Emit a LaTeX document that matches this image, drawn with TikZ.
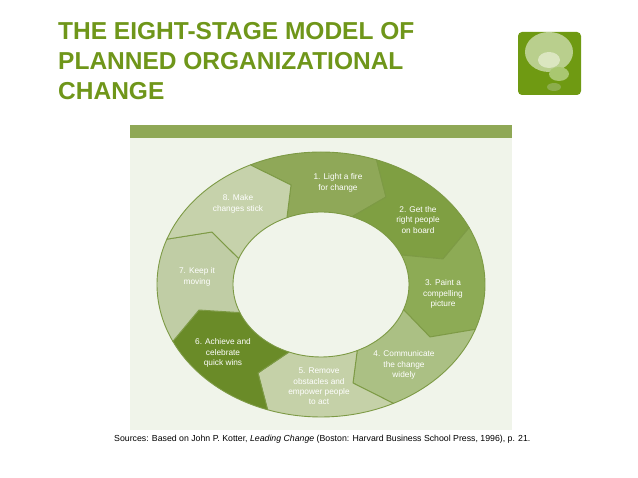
\documentclass[tikz,border=0pt]{standalone}
\usepackage{fontspec}
\setmainfont{Liberation Sans}
\usepackage{xcolor}
\definecolor{titlegreen}{HTML}{6F961A}
\definecolor{panelbg}{HTML}{F0F4EA}
\definecolor{barcol}{HTML}{8FA856}
\definecolor{edgecol}{HTML}{7D9A45}
\definecolor{iconbg}{HTML}{6F9A12}
\definecolor{iconbig}{HTML}{B9CF8D}
\definecolor{iconhi}{HTML}{DBE6C0}
\definecolor{iconmid}{HTML}{A9C770}
\definecolor{iconlow}{HTML}{8CAD4C}
\definecolor{color1}{HTML}{8FA858}
\definecolor{color2}{HTML}{7F9F42}
\definecolor{color3}{HTML}{8DAB55}
\definecolor{color4}{HTML}{ABC084}
\definecolor{color5}{HTML}{C5D1A8}
\definecolor{color6}{HTML}{6A8B28}
\definecolor{color7}{HTML}{C0CDA5}
\definecolor{color8}{HTML}{C6D2AB}
\tikzset{
  segline/.style={draw=edgecol,line width=0.9pt,line join=round},
  seglabel/.style={align=center,text=white,font=\fontsize{8.3}{10.4}\selectfont,inner sep=0pt}
}

\begin{document}
\begin{tikzpicture}[x=1pt,y=1pt]
    \useasboundingbox (0,0) rectangle (638,478);
    \node[anchor=north west,align=left,inner sep=0pt,text=titlegreen,font=\fontsize{24.5}{30}\selectfont\bfseries] (title) at (58,455.5) {THE EIGHT-STAGE MODEL OF\\PLANNED ORGANIZATIONAL\\CHANGE};
    % icon
    \fill[iconbg,rounded corners=4pt] (518,383) rectangle (581,446);
    \fill[iconbig] (549,426) ellipse [x radius=24,y radius=20];
    \fill[iconhi] (549,418) ellipse [x radius=11,y radius=8];
    \fill[iconmid] (559,404) ellipse [x radius=10,y radius=7];
    \fill[iconlow] (554,391) ellipse [x radius=7,y radius=4];
    % panel
    \fill[panelbg] (130,48) rectangle (512,353);
    \fill[barcol] (130,340) rectangle (512,353);
    % notch tips
    \coordinate (tipA) at (291,293);
    \coordinate (tipB) at (386,281);
    \coordinate (tipC) at (443,219);
    \coordinate (tipD) at (430,141);
    \coordinate (tipE) at (353,95);
    \coordinate (tipF) at (258,105);
    \coordinate (tipG) at (199,168);
    \coordinate (tipH) at (212,246);
    % centre of the ring
    \coordinate (ring) at (321,193.5);
    \draw[segline,fill=color1] ([shift={(115.5:164 and 132.5)}]ring) arc[start angle=115.5,end angle=70.2,x radius=164,y radius=132.5] -- (tipB) -- ([shift={(69.3:88 and 72.5)}]ring) arc[start angle=69.3,end angle=112.8,x radius=88,y radius=72.5] -- (tipA) -- cycle;
    \draw[segline,fill=color2] ([shift={(70.2:164 and 132.5)}]ring) arc[start angle=70.2,end angle=25.4,x radius=164,y radius=132.5] -- (tipC) -- ([shift={(24:88 and 72.5)}]ring) arc[start angle=24,end angle=69.3,x radius=88,y radius=72.5] -- (tipB) -- cycle;
    \draw[segline,fill=color3] ([shift={(25.4:164 and 132.5)}]ring) arc[start angle=25.4,end angle=-19.8,x radius=164,y radius=132.5] -- (tipD) -- ([shift={(-20.3:88 and 72.5)}]ring) arc[start angle=-20.3,end angle=24,x radius=88,y radius=72.5] -- (tipC) -- cycle;
    \draw[segline,fill=color4] ([shift={(-19.8:164 and 132.5)}]ring) arc[start angle=-19.8,end angle=-63.8,x radius=164,y radius=132.5] -- (tipE) -- ([shift={(-65.7:88 and 72.5)}]ring) arc[start angle=-65.7,end angle=-20.3,x radius=88,y radius=72.5] -- (tipD) -- cycle;
    \draw[segline,fill=color5] ([shift={(-63.8:164 and 132.5)}]ring) arc[start angle=-63.8,end angle=-109,x radius=164,y radius=132.5] -- (tipF) -- ([shift={(-111.3:88 and 72.5)}]ring) arc[start angle=-111.3,end angle=-65.7,x radius=88,y radius=72.5] -- (tipE) -- cycle;
    \draw[segline,fill=color6] ([shift={(-109:164 and 132.5)}]ring) arc[start angle=-109,end angle=-154.6,x radius=164,y radius=132.5] -- (tipG) -- ([shift={(-157.2:88 and 72.5)}]ring) arc[start angle=-157.2,end angle=-111.3,x radius=88,y radius=72.5] -- (tipF) -- cycle;
    \draw[segline,fill=color7] ([shift={(-154.6:164 and 132.5)}]ring) arc[start angle=-154.6,end angle=-200,x radius=164,y radius=132.5] -- (tipH) -- ([shift={(159.1:88 and 72.5)}]ring) arc[start angle=159.1,end angle=202.8,x radius=88,y radius=72.5] -- (tipG) -- cycle;
    \draw[segline,fill=color8] ([shift={(160:164 and 132.5)}]ring) arc[start angle=160,end angle=115.5,x radius=164,y radius=132.5] -- (tipA) -- ([shift={(112.8:88 and 72.5)}]ring) arc[start angle=112.8,end angle=159.1,x radius=88,y radius=72.5] -- (tipH) -- cycle;
    % labels
    \node[seglabel] (one) at (338,295) {1. Light a fire\\for change};
    \node[seglabel] (two) at (418,258) {2. Get the\\right people\\on board};
    \node[seglabel] (three) at (443,184) {3. Paint a\\compelling\\picture};
    \node[seglabel] (four) at (404,113) {4. Communicate\\the change\\widely};
    \node[seglabel] (five) at (319,91.5) {5. Remove\\obstacles and\\empower people\\to act};
    \node[seglabel] (six) at (223,125) {6. Achieve and\\celebrate\\quick wins};
    \node[seglabel] (seven) at (197,201) {7. Keep it\\moving};
    \node[seglabel] (eight) at (238,274) {8. Make\\changes stick};
    \node[anchor=base west,inner sep=0pt,font=\fontsize{8.75}{11}\selectfont] (source) at (114,36) {Sources: Based on John P. Kotter, \textit{Leading Change} (Boston: Harvard Business School Press, 1996), p. 21.};
  \end{tikzpicture}
\end{document}
